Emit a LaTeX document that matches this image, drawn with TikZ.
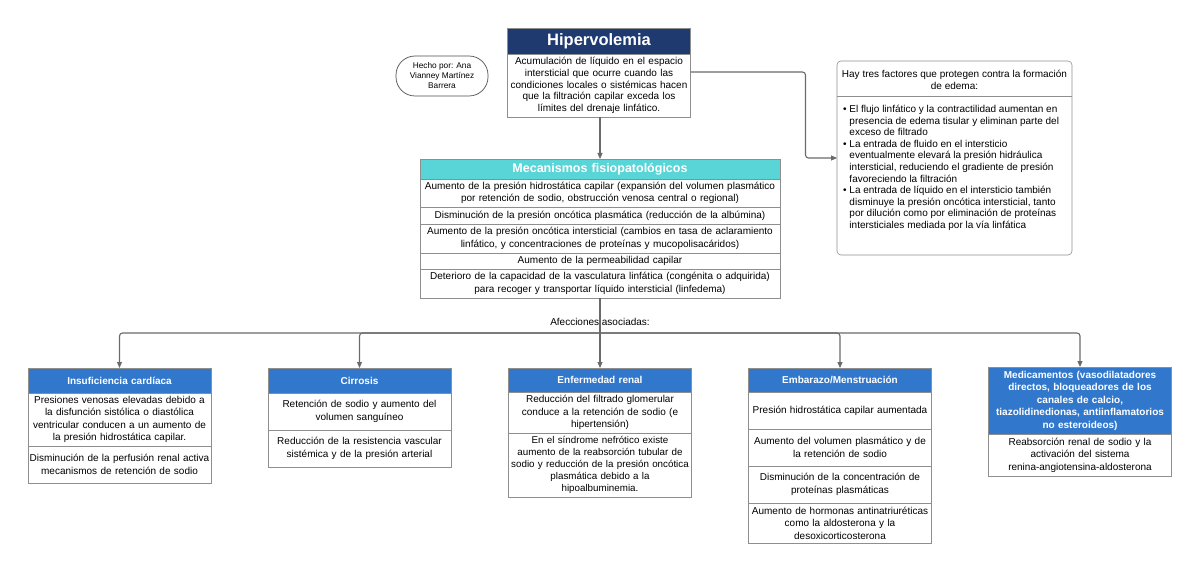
\documentclass[tikz,border=0pt]{standalone}
\usepackage{fontspec}
\setmainfont{Liberation Sans}
\usetikzlibrary{positioning}
\usetikzlibrary{calc}
\usetikzlibrary{arrows.meta}
\definecolor{navyhead}{HTML}{1E3A6E}
\definecolor{cyanhead}{HTML}{59D5D7}
\definecolor{catblue}{HTML}{3178CC}
\definecolor{boxline}{HTML}{8E8E8E}
\definecolor{linkgray}{HTML}{6A6A6A}

\begin{document}
\begin{tikzpicture}[x=1pt, y=-1pt, >={Triangle[length=6pt,width=5pt]}, font=\fontsize{10}{12.4}\selectfont]
    \tikzstyle{head}=[draw=boxline, line width=0.6pt, fill=catblue, text=white, font=\fontsize{10}{12.5}\selectfont\bfseries, align=center, text width=181pt, inner xsep=1pt, inner ysep=1pt, outer sep=0pt, anchor=north]
    \tikzstyle{cell}=[draw=boxline, line width=0.6pt, fill=white, align=center, text width=181pt, inner xsep=1pt, inner ysep=1pt, outer sep=0pt]
    \tikzstyle{link}=[->, draw=linkgray, line width=1.1pt, rounded corners=3pt]

    \useasboundingbox (0,0) rectangle (1200,572);

    % titulo
    \node[head, fill=navyhead, font=\fontsize{16.5}{18}\selectfont\bfseries, minimum height=26pt] (hiper) at (599,28) {Hipervolemia};
    \node[cell, minimum height=63pt, below=0pt of hiper, font=\fontsize{10}{11.6}\selectfont] (hbody) {Acumulación de líquido en el espacio\\ intersticial que ocurre cuando las\\ condiciones locales o sistémicas hacen\\ que la filtración capilar exceda los\\ límites del drenaje linfático.};
    \node[draw=black!70, line width=0.7pt, rounded corners=19pt, minimum width=92pt, minimum height=40pt, align=center, font=\fontsize{8.3}{10}\selectfont] (autor) at (442,76) {Hecho por: Ana\\ Vianney Martínez\\ Barrera};

    % factores protectores
    \node[draw=boxline, line width=0.6pt, rounded corners=4pt, minimum width=235pt, minimum height=194pt, outer sep=0pt, anchor=north west] (factors) at (837,61) {};
    \node[align=center, inner sep=0pt, font=\fontsize{10}{12.5}\selectfont] (facthead) at ($(factors.north)+(0,19)$) {Hay tres factores que protegen contra la formación\\ de edema:};
    \draw[draw=boxline, line width=0.6pt] ($(factors.north west)+(0,35)$) -- ($(factors.north east)+(0,35)$);
    \node[anchor=north west, align=left, inner sep=0pt, font=\fontsize{10}{11.6}\selectfont] (factlist) at ($(factors.north west)+(6,44)$) {\textbullet\ El flujo linfático y la contractilidad aumentan en\\ \phantom{\textbullet\ }presencia de edema tisular y eliminan parte del\\ \phantom{\textbullet\ }exceso de filtrado\\ \textbullet\ La entrada de fluido en el intersticio\\ \phantom{\textbullet\ }eventualmente elevará la presión hidráulica\\ \phantom{\textbullet\ }intersticial, reduciendo el gradiente de presión\\ \phantom{\textbullet\ }favoreciendo la filtración\\ \textbullet\ La entrada de líquido en el intersticio también\\ \phantom{\textbullet\ }disminuye la presión oncótica intersticial, tanto\\ \phantom{\textbullet\ }por dilución como por eliminación de proteínas\\ \phantom{\textbullet\ }intersticiales mediada por la vía linfática};

    % mecanismos
    \node[head, fill=cyanhead, text width=358pt, minimum height=20pt, font=\fontsize{12.5}{14}\selectfont\bfseries] (meca) at (600,159) {Mecanismos fisiopatológicos};
    \node[cell, text width=358pt, minimum height=28pt, below=0pt of meca] (meca1) {Aumento de la presión hidrostática capilar (expansión del volumen plasmático\\ por retención de sodio, obstrucción venosa central o regional)};
    \node[cell, text width=358pt, minimum height=17pt, below=0pt of meca1] (meca2) {Disminución de la presión oncótica plasmática (reducción de la albúmina)};
    \node[cell, text width=358pt, minimum height=29pt, below=0pt of meca2] (meca3) {Aumento de la presión oncótica intersticial (cambios en tasa de aclaramiento\\ linfático, y concentraciones de proteínas y mucopolisacáridos)};
    \node[cell, text width=358pt, minimum height=16pt, below=0pt of meca3] (meca4) {Aumento de la permeabilidad capilar};
    \node[cell, text width=358pt, minimum height=29pt, below=0pt of meca4] (meca5) {Deterioro de la capacidad de la vasculatura linfática (congénita o adquirida)\\ para recoger y transportar líquido intersticial (linfedema)};

    % afecciones
    \node[head, minimum height=25pt] (card) at (119.5,368) {Insuficiencia cardíaca};
    \node[cell, minimum height=53pt, below=0pt of card] (card1) {Presiones venosas elevadas debido a\\ la disfunción sistólica o diastólica\\ ventricular conducen a un aumento de\\ la presión hidrostática capilar.};
    \node[cell, minimum height=37pt, below=0pt of card1] (card2) {Disminución de la perfusión renal activa\\ mecanismos de retención de sodio};

    \node[head, minimum height=25pt] (cirr) at (359.5,368) {Cirrosis};
    \node[cell, minimum height=37pt, below=0pt of cirr] (cirr1) {Retención de sodio y aumento del\\ volumen sanguíneo};
    \node[cell, minimum height=37pt, below=0pt of cirr1] (cirr2) {Reducción de la resistencia vascular\\ sistémica y de la presión arterial};

    \node[head, minimum height=24pt] (renal) at (600,368) {Enfermedad renal};
    \node[cell, minimum height=41pt, below=0pt of renal] (renal1) {Reducción del filtrado glomerular\\ conduce a la retención de sodio (e\\ hipertensión)};
    \node[cell, text width=183pt, inner xsep=0pt, minimum height=64pt, below=0pt of renal1, font=\fontsize{9.8}{12.2}\selectfont] (renal2) {En el síndrome nefrótico existe\\ aumento de la reabsorción tubular de\\ sodio y reducción de la presión oncótica\\ plasmática debido a la\\ hipoalbuminemia.};

    \node[head, minimum height=24pt] (emb) at (840,368) {Embarazo/Menstruación};
    \node[cell, minimum height=37pt, below=0pt of emb] (emb1) {Presión hidrostática capilar aumentada};
    \node[cell, minimum height=37pt, below=0pt of emb1] (emb2) {Aumento del volumen plasmático y de\\ la retención de sodio};
    \node[cell, minimum height=37pt, below=0pt of emb2] (emb3) {Disminución de la concentración de\\ proteínas plasmáticas};
    \node[cell, minimum height=40pt, below=0pt of emb3] (emb4) {Aumento de hormonas antinatriuréticas\\ como la aldosterona y la\\ desoxicorticosterona};

    \node[head, minimum height=67pt] (med) at (1080,367) {Medicamentos (vasodilatadores\\ directos, bloqueadores de los\\ canales de calcio,\\ tiazolidinedionas, antiinflamatorios\\ no esteroideos)};
    \node[cell, minimum height=42pt, below=0pt of med] (med1) {Reabsorción renal de sodio y la\\ activación del sistema\\ renina-angiotensina-aldosterona};

    \node[inner sep=0pt] (afec) at (600,322) {Afecciones asociadas:};

    % conexiones
    \coordinate (hout) at ([yshift=-18pt]hbody.north east);
    \coordinate (hub) at (600,333);
    \draw[link] (hbody.south -| meca.north) -- (meca.north);
    \draw[link] (hout) -- ++(115,0) |- (factors.west);
    \draw[link] (meca5.south) -- (renal.north);
    \draw[link] (hub) -| (card.north);
    \draw[link] (hub) -| (cirr.north);
    \draw[link] (hub) -| (emb.north);
    \draw[link] (hub) -| (med.north);

\end{tikzpicture}
\end{document}
